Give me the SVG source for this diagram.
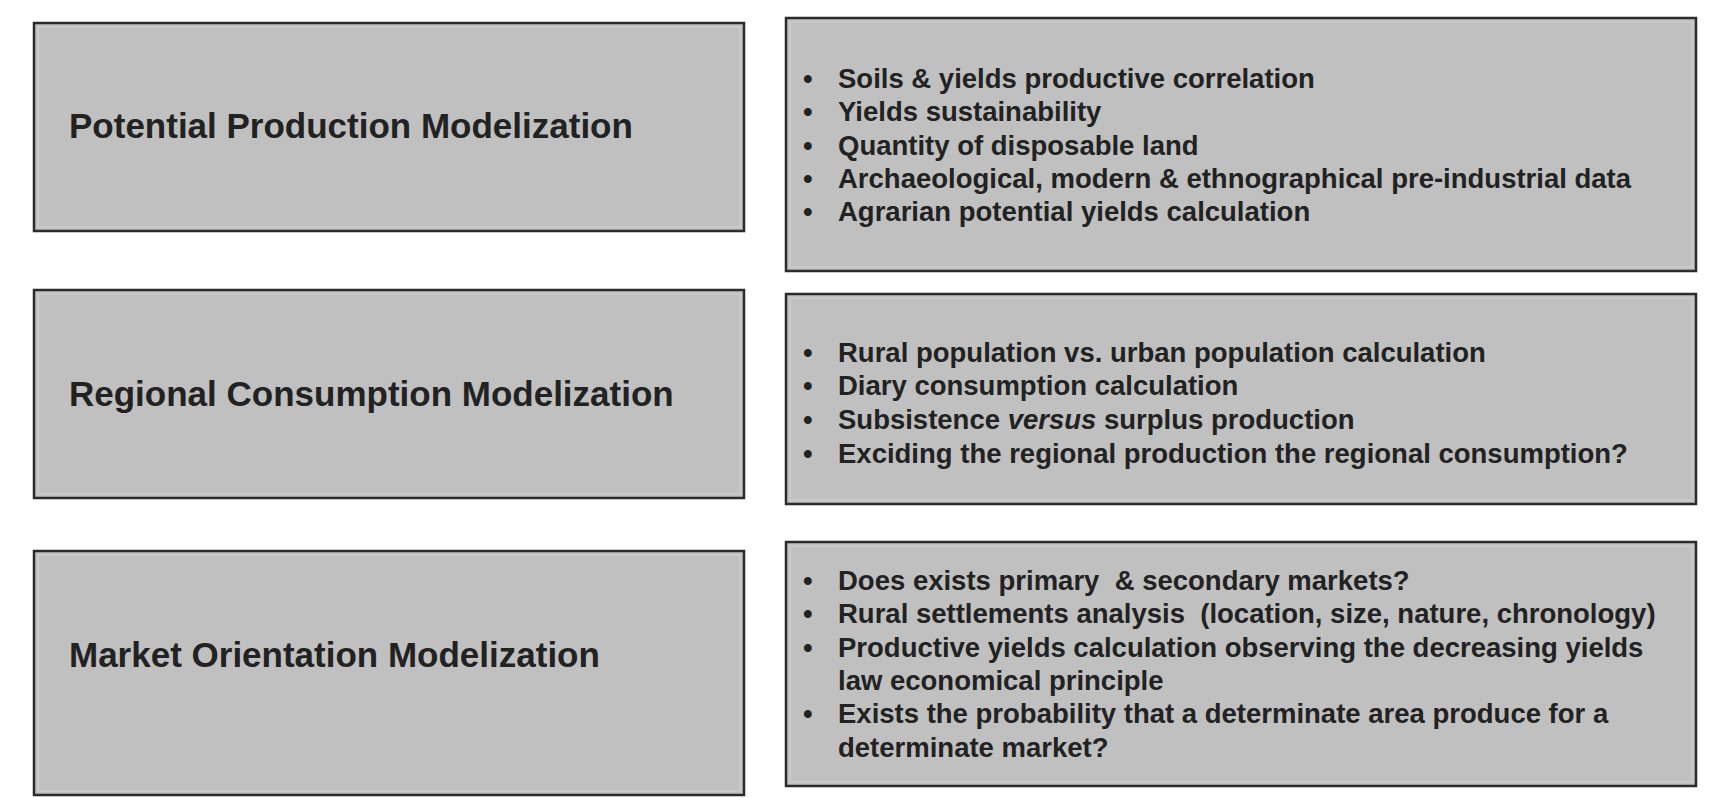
<svg xmlns="http://www.w3.org/2000/svg" width="1725" height="798" viewBox="0 0 1725 798">
  <style>
    .box { fill: #c0c0c0; stroke: #2b2b2b; stroke-width: 2.5; }
    .bevel { fill: none; stroke: #cdcdcd; stroke-width: 1.5; }
    .title { font-family: "Liberation Sans", Arial, sans-serif; font-weight: bold; font-size: 35px; fill: #222222; }
    .item { font-family: "Liberation Sans", Arial, sans-serif; font-weight: bold; font-size: 27.5px; fill: #222222; white-space: pre; }
    .bul { font-family: "Liberation Sans", Arial, sans-serif; font-weight: bold; font-size: 27.5px; fill: #222222; }
  </style>
  <rect x="0" y="0" width="1725" height="798" fill="#ffffff"/>

  <g id="potential-production">
    <rect class="box" x="34" y="23" width="710" height="208"/>
    <rect class="bevel" x="38" y="27" width="702" height="200"/>
    <text class="title" x="69" y="138">Potential Production Modelization</text>
  </g>

  <g id="potential-production-items">
    <rect class="box" x="786" y="18" width="910" height="253"/>
    <rect class="bevel" x="790" y="22" width="902" height="245"/>
    <text class="bul" x="803" y="88">•</text><text class="item" x="838" y="88">Soils &amp; yields productive correlation</text>
    <text class="bul" x="803" y="121">•</text><text class="item" x="838" y="121">Yields sustainability</text>
    <text class="bul" x="803" y="155">•</text><text class="item" x="838" y="155">Quantity of disposable land</text>
    <text class="bul" x="803" y="188">•</text><text class="item" x="838" y="188">Archaeological, modern &amp; ethnographical pre-industrial data</text>
    <text class="bul" x="803" y="221">•</text><text class="item" x="838" y="221">Agrarian potential yields calculation</text>
  </g>

  <g id="regional-consumption">
    <rect class="box" x="34" y="290" width="710" height="208"/>
    <rect class="bevel" x="38" y="294" width="702" height="200"/>
    <text class="title" x="69" y="406">Regional Consumption Modelization</text>
  </g>

  <g id="regional-consumption-items">
    <rect class="box" x="786" y="294" width="910" height="210"/>
    <rect class="bevel" x="790" y="298" width="902" height="202"/>
    <text class="bul" x="803" y="362">•</text><text class="item" x="838" y="362">Rural population vs. urban population calculation</text>
    <text class="bul" x="803" y="395">•</text><text class="item" x="838" y="395">Diary consumption calculation</text>
    <text class="bul" x="803" y="429">•</text><text class="item" x="838" y="429">Subsistence <tspan font-style="italic">versus</tspan> surplus production</text>
    <text class="bul" x="803" y="463">•</text><text class="item" x="838" y="463">Exciding the regional production the regional consumption?</text>
  </g>

  <g id="market-orientation">
    <rect class="box" x="34" y="551" width="710" height="244"/>
    <rect class="bevel" x="38" y="555" width="702" height="236"/>
    <text class="title" x="69" y="667">Market Orientation Modelization</text>
  </g>

  <g id="market-orientation-items">
    <rect class="box" x="786" y="542" width="910" height="244"/>
    <rect class="bevel" x="790" y="546" width="902" height="236"/>
    <text class="bul" x="803" y="590">•</text><text class="item" x="838" y="590">Does exists primary  &amp; secondary markets?</text>
    <text class="bul" x="803" y="623">•</text><text class="item" x="838" y="623">Rural settlements analysis  (location, size, nature, chronology)</text>
    <text class="bul" x="803" y="657">•</text><text class="item" x="838" y="657">Productive yields calculation observing the decreasing yields</text>
    <text class="item" x="838" y="690">law economical principle</text>
    <text class="bul" x="803" y="723">•</text><text class="item" x="838" y="723">Exists the probability that a determinate area produce for a</text>
    <text class="item" x="838" y="757">determinate market?</text>
  </g>

  <g id="connectors"/>
</svg>
